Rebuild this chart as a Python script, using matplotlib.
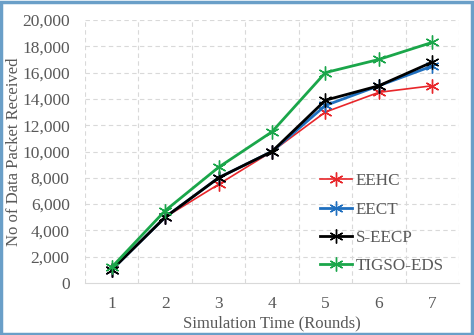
import matplotlib
matplotlib.use('Agg')
from matplotlib import pyplot as plt
from matplotlib.patches import Rectangle

# data
rounds = [1, 2, 3, 4, 5, 6, 7]
eehc = [1000, 5000, 7500, 10000, 13000, 14500, 15000]
eect = [1000, 5000, 8000, 10000, 13500, 15000, 16500]
s_eecp = [1000, 5000, 8000, 10000, 13900, 15000, 16800]
tigso_eds = [1200, 5500, 8800, 11500, 16000, 17000, 18300]
y_ticks = list(range(0, 20001, 2000))

plt.rcParams['font.family'] = ['Liberation Serif', 'DejaVu Serif']
txt = '#595959'

f = plt.figure(figsize=(4.74, 3.35), dpi=100)
ax = f.add_axes([85 / 474, 1 - 283 / 335, 374 / 474, 263 / 335])

star = (6, 2, 0)
series = [('EEHC', eehc, '#e8262a', 1.2),
          ('EECT', eect, '#1f6fbf', 2.0),
          ('S-EECP', s_eecp, '#000000', 2.0),
          ('TIGSO-EDS', tigso_eds, '#1aa64a', 2.0)]
for name, vals, col, lw in series:
    ax.plot(rounds, vals, color=col, lw=lw, marker=star, markersize=10,
            markeredgewidth=1.0, label=name)

ax.set_xlim(0.5, 7.5)
ax.set_ylim(0, 20000)
ax.set_xticks(rounds)
ax.set_yticks(y_ticks)
ax.set_yticklabels(['{:,}'.format(v) for v in y_ticks])
ax.tick_params(length=0, labelsize=12.5, colors=txt, pad=11)
ax.tick_params(axis='x', pad=9)

# grid: dashed, vertical lines between categories (excel style)
for v in y_ticks[1:]:
    ax.axhline(v, color='#d9d9d9', lw=0.8, ls=(0, (4, 3)), zorder=0)
for x in [r + 0.5 for r in rounds]:
    ax.axvline(x, color='#d9d9d9', lw=0.8, ls=(0, (4, 3)), zorder=0)
ax.axvline(0.5, color='#d9d9d9', lw=0.8, ls=(0, (4, 3)), zorder=0)

for s in ['top', 'right', 'left']:
    ax.spines[s].set_visible(False)
ax.spines['bottom'].set_color('#d9d9d9')

ax.set_xlabel('Simulation Time (Rounds)', fontsize=12, color=txt, labelpad=3)
ax.set_ylabel('No of Data Packet Received', fontsize=12, color=txt,
              va='center')
ax.yaxis.set_label_coords(-71 / 374, 0.5)

ax.legend(loc='lower right', bbox_to_anchor=(1.0, -0.025), frameon=False,
          fontsize=12.3, labelcolor=txt, handlelength=1.9, handletextpad=0.2,
          labelspacing=0.72)

# blue frame around the whole figure
f.patches.append(Rectangle((0.002, 0.003), 0.994, 0.992, transform=f.transFigure,
                           fill=False, edgecolor='#6a9fc8', lw=2.5))

plt.savefig('out.png', dpi=100)
